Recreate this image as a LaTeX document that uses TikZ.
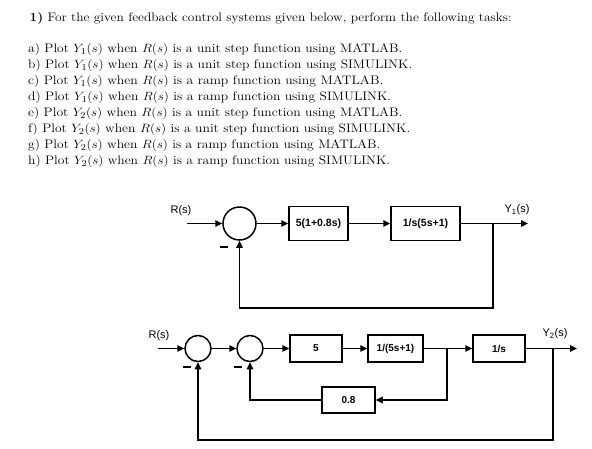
\documentclass[tikz,border=0pt]{standalone}
\usepackage{fontspec}
\usepackage{amsmath}
\usepackage{graphicx}
\usetikzlibrary{arrows.meta}
\newfontfamily\diagfont{Liberation Sans}
\newcommand{\fitline}[2]{\resizebox{#1pt}{\height}{#2}}
\newcommand{\minusbar}{\rule{8pt}{2.6pt}}
\begin{document}
\begin{tikzpicture}[x=1pt,y=-1pt,
  txt/.style={anchor=base west,inner sep=0pt,font=\fontsize{12.3}{16}\selectfont},
  blk/.style={draw,line width=1.5pt,minimum height=34pt,inner sep=0pt,font=\diagfont\bfseries\fontsize{10.5}{12}\selectfont},
  blk2/.style={draw,line width=1.5pt,minimum height=27pt,inner sep=0pt,font=\diagfont\bfseries\fontsize{10}{12}\selectfont},
  sumc/.style={draw,circle,line width=1.5pt,inner sep=0pt},
  lab/.style={inner sep=0pt,font=\diagfont\fontsize{11}{12}\selectfont},
  minus/.style={inner sep=0pt},
  wire/.style={line width=1.5pt},
  arr/.style={line width=1.5pt,-{Triangle[length=7pt,width=6.5pt]}}]
\useasboundingbox (0,0) rectangle (592,448);
% text
\node[txt] (t0) at (29.5,21.7) {\fitline{482}{\textbf{1)} For the given feedback control systems given below, perform the following tasks:}};
\node[txt] (ta) at (28,52.7) {\fitline{374}{a) Plot $Y_1(s)$ when $R(s)$ is a unit step function using MATLAB.}};
\node[txt] (tb) at (28,68.7) {\fitline{384}{b) Plot $Y_1(s)$ when $R(s)$ is a unit step function using SIMULINK.}};
\node[txt] (tc) at (28,84.7) {\fitline{355}{c) Plot $Y_1(s)$ when $R(s)$ is a ramp function using MATLAB.}};
\node[txt] (td) at (28,100.7) {\fitline{363}{d) Plot $Y_1(s)$ when $R(s)$ is a ramp function using SIMULINK.}};
\node[txt] (te) at (28,116.7) {\fitline{374}{e) Plot $Y_2(s)$ when $R(s)$ is a unit step function using MATLAB.}};
\node[txt] (tf) at (28,132.7) {\fitline{382}{f) Plot $Y_2(s)$ when $R(s)$ is a unit step function using SIMULINK.}};
\node[txt] (tg) at (28,148.7) {\fitline{352}{g) Plot $Y_2(s)$ when $R(s)$ is a ramp function using MATLAB.}};
\node[txt] (th) at (28,164.7) {\fitline{362}{h) Plot $Y_2(s)$ when $R(s)$ is a ramp function using SIMULINK.}};
% diagram 1
\coordinate (in1) at (187,223.5);
\node[sumc,minimum size=33pt] (s1) at (239.5,223.5) {};
\node[blk,minimum width=59pt] (b1) at (318.5,223.5) {5(1+0.8s)};
\node[blk,minimum width=69pt] (b2) at (425.5,223.5) {1/s(5s+1)};
\coordinate (br1) at (493,223.5);
\coordinate (out1) at (528,223.5);
\coordinate (fb1a) at (493,308);
\coordinate (fb1b) at (239.5,308);
\node[lab] (r1) at (181,211) {R(s)};
\node[lab] (y1) at (517,210) {Y\textsubscript{1}(s)};
\node[minus] (m1) at (224,247) {\minusbar};
\draw[arr] (in1) -- (s1);
\draw[arr] (s1) -- (b1);
\draw[arr] (b1) -- (b2);
\draw[wire] (b2) -- (br1);
\draw[arr] (br1) -- (out1);
\draw[arr] (br1) -- (fb1a) -- (fb1b) -- (s1);
% diagram 2
\coordinate (in2) at (158,348.5);
\node[sumc,minimum size=26pt] (s21) at (198,348.5) {};
\node[sumc,minimum size=26pt] (s22) at (250,348.5) {};
\node[blk2,minimum width=52pt] (b5) at (316,348.5) {5};
\node[blk2,minimum width=55pt] (b6) at (395.5,348.5) {1/(5s+1)};
\coordinate (br2) at (447,348.5);
\node[blk2,minimum width=52pt] (b7) at (499,348.5) {1/s};
\coordinate (br3) at (553,348.5);
\coordinate (out2) at (577,348.5);
\node[blk2,minimum width=53pt,minimum height=26pt] (b8) at (348.5,400) {0.8};
\coordinate (fi1) at (447,400);
\coordinate (fi2) at (250,400);
\coordinate (fo1) at (553,440);
\coordinate (fo2) at (198,440);
\node[lab] (r2) at (159,336) {R(s)};
\node[lab] (y2) at (555,334) {Y\textsubscript{2}(s)};
\node[minus] (m2) at (187,367) {\minusbar};
\node[minus] (m3) at (238,367) {\minusbar};
\draw[arr] (in2) -- (s21);
\draw[arr] (s21) -- (s22);
\draw[arr] (s22) -- (b5);
\draw[arr] (b5) -- (b6);
\draw[wire] (b6) -- (br2);
\draw[arr] (br2) -- (b7);
\draw[wire] (b7) -- (br3);
\draw[arr] (br3) -- (out2);
\draw[arr] (br2) -- (fi1) -- (b8);
\draw[arr] (b8) -- (fi2) -- (s22);
\draw[arr] (br3) -- (fo1) -- (fo2) -- (s21);
\end{tikzpicture}
\end{document}
